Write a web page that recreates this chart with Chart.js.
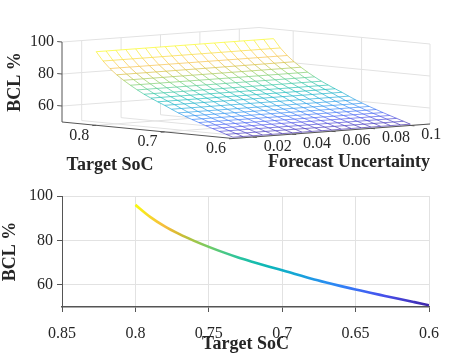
<!DOCTYPE html>
<html>
<head>
<meta charset="utf-8">
<script src="https://cdn.jsdelivr.net/npm/chart.js@4.4.1/dist/chart.umd.min.js"></script>
<style>
  html, body { margin: 0; padding: 0; background: #ffffff; }
  #wrap { position: relative; width: 474px; height: 355px; overflow: hidden; background: #fff; }
  #top { position: absolute; left: 0; top: 0; }
  #bottom { position: absolute; left: 0; top: 180px; }
</style>
</head>
<body>
<div id="wrap">
  <canvas id="top" width="474" height="180"></canvas>
  <canvas id="bottom" width="474" height="175"></canvas>
</div>
<script>
// ---------------- DATA ----------------
const socValues = [0.60, 0.61, 0.62, 0.63, 0.64, 0.65, 0.66, 0.67, 0.68, 0.69, 0.70,
                   0.71, 0.72, 0.73, 0.74, 0.75, 0.76, 0.77, 0.78, 0.79, 0.80];
const bclValues = [50.8, 52.2, 53.6, 55.0, 56.4, 57.9, 59.4, 61.0, 62.7, 64.6, 66.6,
                   68.4, 70.3, 72.3, 74.6, 77.1, 79.8, 82.8, 86.3, 90.6, 96.0];
const uncertaintyValues = [0.010, 0.015, 0.020, 0.025, 0.030, 0.035, 0.040, 0.045, 0.050, 0.055,
                           0.060, 0.065, 0.070, 0.075, 0.080, 0.085, 0.090, 0.095, 0.100];
const socTicks3D = [0.6, 0.7, 0.8];
const uncertaintyTicks = [0.02, 0.04, 0.06, 0.08, 0.1];
const bclTicks = [60, 80, 100];
const socTicksLine = [0.85, 0.8, 0.75, 0.7, 0.65, 0.6];
const socRange = [0.6, 0.85];
const uncertaintyRange = [0.01, 0.11];
const bclRange = [50, 100];

// ---------------- STYLE / VIEW ----------------
const TICK_FONT = "16px 'Liberation Serif'";
const TITLE_FONT = "bold 18px 'Liberation Serif'";
const TEXT_COLOR = '#262626';
const GRID_COLOR = '#e2e2e2';
const AXIS_COLOR = '#555555';
// screen view of the 3D box (front corner, end of SoC axis, end of uncertainty axis, z height)
const VIEW = { fx: 233, fy: 138.5, sx: 62, sy: 122, ux: 430, uy: 124, zh: 80 };

// parula colormap (approximate samples at 0, 0.1, ..., 1)
const parulaStops = ['#3e26a8','#4752ef','#2e87f7','#16a4d9','#0bb9b4','#38c796','#81cc59','#d1bb31','#fbbc3f','#f6dd27','#f9fb0e'];
function hexRgb(h){ return [parseInt(h.slice(1,3),16), parseInt(h.slice(3,5),16), parseInt(h.slice(5,7),16)]; }
function parulaRgb(t){
  t = Math.max(0, Math.min(1, t));
  const n = parulaStops.length - 1;
  const k = Math.min(n - 1, Math.floor(t * n));
  const f = t * n - k;
  const a = hexRgb(parulaStops[k]), b = hexRgb(parulaStops[k+1]);
  return a.map((v, i) => Math.round(v + (b[i] - v) * f));
}
function parula(t){ const c = parulaRgb(t); return `rgb(${c[0]},${c[1]},${c[2]})`; }
function parulaMesh(t){ const c = parulaRgb(t); return `rgba(${c[0]},${c[1]},${c[2]},0.72)`; }
const bclMin = Math.min(...bclValues), bclMax = Math.max(...bclValues);
const norm = v => (v - bclMin) / (bclMax - bclMin);

function proj(soc, fu, z){
  const a = (soc - socRange[0]) / (socRange[1] - socRange[0]);
  const b = (fu - uncertaintyRange[0]) / (uncertaintyRange[1] - uncertaintyRange[0]);
  const c = (z - bclRange[0]) / (bclRange[1] - bclRange[0]);
  return {
    x: VIEW.fx + a * (VIEW.sx - VIEW.fx) + b * (VIEW.ux - VIEW.fx),
    y: VIEW.fy + a * (VIEW.sy - VIEW.fy) + b * (VIEW.uy - VIEW.fy) - c * VIEW.zh
  };
}

// ---------------- TOP: 3D mesh ----------------
const topDatasets = [];
function seg(p, q, color, width, order){
  topDatasets.push({ data: [p, q], showLine: true, pointRadius: 0, borderColor: color,
    borderWidth: width, fill: false, order: order, clip: false });
}
const sMax = socRange[1], sMin = socRange[0], uMin = uncertaintyRange[0], uMax = uncertaintyRange[1];
const zMin = bclRange[0], zMax = bclRange[1];
// back-wall & floor grid
bclTicks.forEach(z => {
  seg(proj(sMax, uMin, z), proj(sMax, uMax, z), GRID_COLOR, 1, 10);
  seg(proj(sMax, uMax, z), proj(sMin, uMax, z), GRID_COLOR, 1, 10);
});
uncertaintyTicks.forEach(u => {
  seg(proj(sMax, u, zMin), proj(sMax, u, zMax), GRID_COLOR, 1, 10);
  seg(proj(sMin, u, zMin), proj(sMax, u, zMin), GRID_COLOR, 1, 10);
});
socTicks3D.forEach(s => {
  seg(proj(s, uMax, zMin), proj(s, uMax, zMax), GRID_COLOR, 1, 10);
  seg(proj(s, uMin, zMin), proj(s, uMax, zMin), GRID_COLOR, 1, 10);
});
// axes
seg(proj(sMax, uMin, zMin), proj(sMax, uMin, zMax), AXIS_COLOR, 1, 9);
seg(proj(sMax, uMin, zMin), proj(sMin, uMin, zMin), AXIS_COLOR, 1, 9);
seg(proj(sMin, uMin, zMin), proj(sMin, uMax, zMin), AXIS_COLOR, 1, 9);
socTicks3D.forEach(s => seg(proj(s, uMin, zMin), proj(s, uMin - 0.002, zMin), AXIS_COLOR, 1, 9));
uncertaintyTicks.forEach(u => seg(proj(sMin, u, zMin), proj(sMin - 0.006, u, zMin), AXIS_COLOR, 1, 9));
bclTicks.forEach(z => seg(proj(sMax, uMin, z), proj(sMax + 0.007, uMin, z), AXIS_COLOR, 1, 9));

// white faces of the mesh (occluder)
const nS = socValues.length, nU = uncertaintyValues.length;
const outline = [];
for (let j = 0; j < nU; j++) outline.push(proj(socValues[nS-1], uncertaintyValues[j], bclValues[nS-1]));
for (let i = nS - 1; i >= 0; i--) outline.push(proj(socValues[i], uncertaintyValues[nU-1], bclValues[i]));
for (let j = nU - 1; j >= 0; j--) outline.push(proj(socValues[0], uncertaintyValues[j], bclValues[0]));
for (let i = 0; i < nS; i++) outline.push(proj(socValues[i], uncertaintyValues[0], bclValues[i]));
topDatasets.push({ data: outline, showLine: true, pointRadius: 0, borderWidth: 0,
  borderColor: 'rgba(0,0,0,0)', backgroundColor: '#ffffff', fill: 'shape', order: 5, clip: false, tension: 0 });

// mesh lines of constant SoC
for (let i = 0; i < nS; i++) {
  const pts = uncertaintyValues.map(u => proj(socValues[i], u, bclValues[i]));
  topDatasets.push({ data: pts, showLine: true, pointRadius: 0, borderWidth: 0.9,
    borderColor: parulaMesh(norm(bclValues[i])), fill: false, order: 1, clip: false });
}
// mesh lines of constant uncertainty
for (let j = 0; j < nU; j++) {
  const pts = socValues.map((s, i) => proj(s, uncertaintyValues[j], bclValues[i]));
  topDatasets.push({ data: pts, showLine: true, pointRadius: 0, borderWidth: 0.9,
    borderColor: parulaMesh(0.5), fill: false, order: 1, clip: false,
    segment: { borderColor: c => parulaMesh(norm((bclValues[c.p0DataIndex] + bclValues[c.p1DataIndex]) / 2)) } });
}

const topText = {
  id: 'topText',
  afterDraw(chart){
    const ctx = chart.ctx;
    ctx.save();
    ctx.fillStyle = TEXT_COLOR;
    ctx.font = TICK_FONT;
    ctx.textBaseline = 'middle';
    ctx.textAlign = 'right';
    bclTicks.forEach(z => { const p = proj(sMax, uMin, z); ctx.fillText(String(z), p.x - 8, p.y); });
    socTicks3D.forEach(s => { const p = proj(s, uMin, zMin); ctx.fillText(s.toFixed(1), p.x - 7, p.y + 10); });
    ctx.textAlign = 'left';
    uncertaintyTicks.forEach(u => { const p = proj(sMin, u, zMin); ctx.fillText(String(u), p.x + 11, p.y + 9.5); });
    ctx.font = TITLE_FONT;
    ctx.textAlign = 'center';
    ctx.fillText('Target SoC', 110, 165);
    ctx.fillText('Forecast Uncertainty', 349, 162);
    ctx.translate(15, 82);
    ctx.rotate(-Math.PI / 2);
    ctx.fillText('BCL %', 0, 0);
    ctx.restore();
  }
};

new Chart(document.getElementById('top'), {
  type: 'scatter',
  data: { datasets: topDatasets },
  options: {
    responsive: false, animation: false, devicePixelRatio: 1,
    layout: { padding: 0 },
    plugins: { legend: { display: false }, tooltip: { enabled: false } },
    elements: { line: { tension: 0 } },
    scales: {
      x: { type: 'linear', min: 0, max: 474, display: false },
      y: { type: 'linear', min: 0, max: 180, reverse: true, display: false }
    }
  },
  plugins: [topText]
});

// ---------------- BOTTOM: BCL vs Target SoC ----------------
function lineGradient(context){
  const chart = context.chart;
  const area = chart.chartArea;
  if (!area) return parula(0.5);
  const xs = chart.scales.x;
  const x0 = xs.getPixelForValue(socValues[0]);
  const x1 = xs.getPixelForValue(socValues[socValues.length - 1]);
  const g = chart.ctx.createLinearGradient(x0, 0, x1, 0);
  socValues.forEach((s, i) => {
    const t = (xs.getPixelForValue(s) - x0) / (x1 - x0);
    g.addColorStop(Math.max(0, Math.min(1, t)), parula(norm(bclValues[i])));
  });
  return g;
}

new Chart(document.getElementById('bottom'), {
  type: 'scatter',
  data: { datasets: [{
    data: socValues.map((s, i) => ({ x: s, y: bclValues[i] })),
    showLine: true, pointRadius: 0, borderWidth: 2.6,
    borderColor: lineGradient, cubicInterpolationMode: 'monotone', fill: false
  }] },
  options: {
    responsive: false, animation: false, devicePixelRatio: 1,
    layout: { padding: { left: 0, right: 45, top: 16, bottom: 0 } },
    plugins: { legend: { display: false }, tooltip: { enabled: false } },
    scales: {
      x: {
        type: 'linear', reverse: true, min: socRange[0], max: socRange[1],
        afterBuildTicks: s => { s.ticks = socTicksLine.map(v => ({ value: v })); },
        afterFit: s => { s.height = 48; },
        ticks: { font: { family: 'Liberation Serif', size: 16 }, color: TEXT_COLOR, padding: 12,
          maxRotation: 0, autoSkip: false, callback: v => String(v) },
        grid: { color: GRID_COLOR, tickLength: 5, tickColor: AXIS_COLOR, lineWidth: 1 },
        border: { color: AXIS_COLOR, width: 1.5 },
        title: { display: true, text: 'Target SoC', color: TEXT_COLOR,
          font: { family: 'Liberation Serif', size: 18, weight: 'bold' }, padding: { top: 0, bottom: 0 } }
      },
      y: {
        type: 'linear', min: bclRange[0], max: bclRange[1],
        afterBuildTicks: s => { s.ticks = bclTicks.map(v => ({ value: v })); },
        afterFit: s => { s.width = 62; },
        ticks: { font: { family: 'Liberation Serif', size: 16 }, color: TEXT_COLOR, padding: 4 },
        grid: { color: GRID_COLOR, tickLength: 5, tickColor: AXIS_COLOR, lineWidth: 1 },
        border: { color: AXIS_COLOR, width: 1 },
        title: { display: true, text: 'BCL %', color: TEXT_COLOR,
          font: { family: 'Liberation Serif', size: 18, weight: 'bold' }, padding: { top: 0, bottom: 0 } }
      }
    }
  }
});
</script>
</body>
</html>
